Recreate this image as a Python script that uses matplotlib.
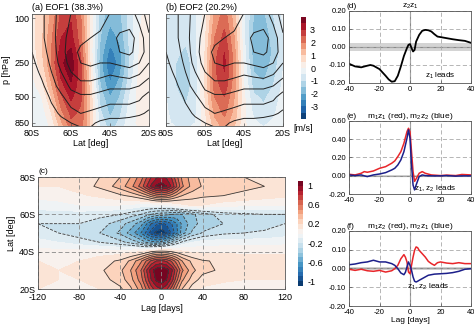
import numpy as np
import matplotlib
matplotlib.use("Agg")
import matplotlib.pyplot as plt
from matplotlib.ticker import FixedLocator, NullLocator

plt.rcParams['font.family'] = ['Liberation Sans', 'DejaVu Sans']
plt.rcParams['mathtext.default'] = 'regular'
plt.rcParams['axes.unicode_minus'] = False
plt.rcParams['font.size'] = 6.5

# -----------------------------
# DATA  (a), (b): EOFs of zonal-mean wind and climatological U
# -----------------------------
lat = [-80, -75, -70, -65, -60, -55, -50, -45, -40, -35, -30, -25, -20]
plev = [90, 150, 200, 250, 300, 400, 500, 700, 850, 925]

eof1 = [
    [0.3, 0.8, 1.6, 2.6, 2.9, 2.0, 0.3, -1.2, -1.8, -1.6, -0.8, -0.1, 0.2],
    [0.3, 0.9, 1.9, 3.0, 3.2, 2.2, 0.3, -1.5, -2.3, -1.9, -0.9, 0.0, 0.3],
    [0.2, 0.9, 2.0, 3.3, 3.6, 2.4, 0.3, -1.7, -2.7, -2.2, -1.0, 0.0, 0.3],
    [0.1, 0.8, 2.0, 3.4, 3.8, 2.6, 0.4, -1.8, -3.0, -2.3, -1.0, 0.1, 0.4],
    [0.0, 0.6, 1.8, 3.2, 3.7, 2.7, 0.5, -1.7, -2.8, -2.1, -0.9, 0.1, 0.4],
    [-0.2, 0.3, 1.4, 2.8, 3.4, 2.7, 0.7, -1.5, -2.4, -1.8, -0.7, 0.2, 0.4],
    [-0.3, 0.0, 1.0, 2.4, 3.1, 2.6, 0.8, -1.2, -2.0, -1.5, -0.5, 0.2, 0.3],
    [-0.4, -0.3, 0.5, 1.8, 2.6, 2.4, 0.9, -0.9, -1.6, -1.1, -0.3, 0.1, 0.2],
    [-0.4, -0.4, 0.2, 1.4, 2.4, 2.3, 0.9, -0.7, -1.3, -0.9, -0.2, 0.1, 0.1],
    [-0.4, -0.4, 0.1, 1.2, 2.2, 2.2, 0.9, -0.6, -1.2, -0.8, -0.2, 0.0, 0.1],
]

eof2 = [
    [-0.5, -0.7, -0.8, -0.6, 0.2, 1.6, 2.2, 1.2, -0.4, -1.5, -1.6, -1.0, -0.4],
    [-0.5, -0.8, -0.9, -0.6, 0.4, 2.0, 2.7, 1.5, -0.4, -1.8, -1.9, -1.3, -0.6],
    [-0.5, -0.9, -1.1, -0.7, 0.5, 2.3, 3.0, 1.7, -0.3, -1.8, -2.0, -1.4, -0.7],
    [-0.5, -1.0, -1.2, -0.8, 0.6, 2.4, 3.1, 1.8, -0.2, -1.7, -1.9, -1.3, -0.6],
    [-0.5, -1.0, -1.2, -0.8, 0.6, 2.4, 3.0, 1.8, -0.1, -1.5, -1.7, -1.2, -0.5],
    [-0.5, -1.0, -1.2, -0.8, 0.6, 2.2, 2.8, 1.7, 0.0, -1.2, -1.4, -1.0, -0.4],
    [-0.5, -0.9, -1.1, -0.7, 0.5, 2.0, 2.5, 1.5, 0.1, -0.9, -1.1, -0.8, -0.3],
    [-0.4, -0.8, -0.9, -0.6, 0.4, 1.6, 2.1, 1.3, 0.1, -0.6, -0.8, -0.6, -0.2],
    [-0.4, -0.6, -0.7, -0.5, 0.3, 1.3, 1.8, 1.1, 0.1, -0.4, -0.6, -0.4, -0.2],
    [-0.3, -0.5, -0.6, -0.4, 0.3, 1.2, 1.7, 1.0, 0.1, -0.3, -0.5, -0.4, -0.2],
]

u_clim = [
    [6, 9, 13, 17, 20, 21, 22, 23, 25, 27, 27, 23, 17],
    [5.5, 9, 13, 18, 22, 24, 25, 26, 28, 31, 32, 28, 21],
    [5, 8, 12, 18, 23, 26, 27, 27, 28, 30, 31, 28, 22],
    [4, 7, 11, 17, 22, 25, 26, 25, 25, 26, 27, 25, 20],
    [3, 6, 10, 15, 20, 23, 23, 22, 21, 22, 23, 21, 17],
    [1, 4, 8, 12, 16, 18, 18, 17, 16, 16, 16, 15, 12],
    [-1, 2, 6, 9, 13, 14, 14, 13, 12, 12, 12, 11, 8],
    [-3, 0, 3, 6, 8, 10, 9, 8, 7, 7, 7, 6, 4],
    [-4, -2, 1, 3, 5, 6, 6, 4, 3, 3, 2, 1, 0],
    [-4, -3, 0, 2, 4, 5, 5, 3, 2, 1, 0, -1, -2],
]

# -----------------------------
# DATA  (c): lag regression, lat x lag
# -----------------------------
lag_c = [-120, -100, -80, -60, -40, -30, -20, -15, -10, -5, 0, 5, 10, 15, 20, 30, 40, 60, 80, 100, 120]
reg_c = [
    [0.15, 0.12, 0.14, 0.20, 0.30, 0.40, 0.55, 0.68, 0.80, 0.88, 0.92, 0.88, 0.78, 0.62, 0.48, 0.34, 0.27, 0.22, 0.20, 0.18, 0.15],
    [0.10, 0.10, 0.15, 0.22, 0.35, 0.46, 0.64, 0.78, 0.92, 1.02, 1.05, 1.00, 0.88, 0.70, 0.52, 0.36, 0.29, 0.25, 0.22, 0.20, 0.18],
    [0.03, 0.04, 0.08, 0.12, 0.18, 0.22, 0.30, 0.36, 0.45, 0.52, 0.55, 0.52, 0.45, 0.36, 0.30, 0.25, 0.22, 0.20, 0.18, 0.15, 0.12],
    [-0.05, -0.03, 0.00, 0.00, 0.00, -0.02, -0.05, -0.06, -0.06, -0.05, -0.05, -0.02, 0.00, 0.04, 0.08, 0.11, 0.10, 0.05, 0.02, 0.00, 0.00],
    [-0.15, -0.15, -0.15, -0.17, -0.20, -0.25, -0.30, -0.35, -0.40, -0.44, -0.45, -0.47, -0.50, -0.51, -0.50, -0.42, -0.35, -0.25, -0.22, -0.20, -0.20],
    [-0.20, -0.20, -0.20, -0.25, -0.36, -0.44, -0.56, -0.68, -0.80, -0.88, -0.92, -0.88, -0.80, -0.70, -0.58, -0.44, -0.36, -0.30, -0.25, -0.25, -0.20],
    [-0.18, -0.20, -0.25, -0.30, -0.42, -0.54, -0.70, -0.82, -0.95, -1.03, -1.06, -1.00, -0.88, -0.72, -0.55, -0.38, -0.29, -0.22, -0.20, -0.18, -0.15],
    [-0.05, -0.10, -0.15, -0.20, -0.27, -0.33, -0.42, -0.50, -0.56, -0.58, -0.55, -0.46, -0.36, -0.26, -0.18, -0.10, -0.06, -0.05, -0.05, -0.05, -0.03],
    [0.03, 0.03, 0.04, 0.05, 0.05, 0.07, 0.10, 0.14, 0.20, 0.24, 0.25, 0.23, 0.20, 0.16, 0.12, 0.08, 0.08, 0.08, 0.08, 0.08, 0.08],
    [0.10, 0.08, 0.10, 0.15, 0.22, 0.32, 0.48, 0.60, 0.72, 0.80, 0.82, 0.78, 0.68, 0.54, 0.40, 0.27, 0.21, 0.18, 0.15, 0.15, 0.15],
    [0.12, 0.10, 0.12, 0.18, 0.28, 0.40, 0.60, 0.78, 0.95, 1.06, 1.10, 1.05, 0.92, 0.72, 0.52, 0.33, 0.23, 0.18, 0.15, 0.15, 0.12],
    [0.12, 0.10, 0.10, 0.15, 0.25, 0.36, 0.55, 0.72, 0.90, 1.02, 1.06, 1.00, 0.85, 0.62, 0.42, 0.25, 0.16, 0.12, 0.10, 0.10, 0.10],
    [0.10, 0.08, 0.08, 0.10, 0.18, 0.28, 0.45, 0.60, 0.75, 0.85, 0.90, 0.82, 0.65, 0.45, 0.30, 0.15, 0.08, 0.05, 0.05, 0.05, 0.05],
]

# -----------------------------
# DATA  (d), (e), (f): lagged cross-correlations
# -----------------------------
lag_d = [-40, -36, -32, -28, -26, -24, -20, -16, -14, -12, -10, -8, -6, -4, -2, -1, 0, 1, 2, 3, 4,
         6, 8, 10, 12, 14, 16, 18, 20, 24, 28, 32, 36, 40]
z2z1 = [-0.093, -0.108, -0.113, -0.104, -0.100, -0.104, -0.123, -0.160, -0.180, -0.193, -0.190,
        -0.160, -0.108, -0.050, -0.006, 0.012, 0.016, -0.006, -0.025, -0.016, 0.030,
        0.067, 0.090, 0.095, 0.093, 0.086, 0.071, 0.058, 0.055, 0.049, 0.043, 0.038, 0.034, 0.023]

lag_e = [-40, -36, -32, -30, -28, -24, -20, -16, -12, -10, -8, -6, -4, -2, -1, 0, 1, 2, 3, 4,
         6, 8, 10, 14, 20, 24, 30, 34, 40]
m1z1 = [0.017, 0.010, 0.028, 0.046, 0.039, 0.053, 0.082, 0.100, 0.137, 0.162, 0.209, 0.263, 0.354,
        0.480, 0.517, 0.480, 0.260, 0.046, -0.060, -0.033, 0.028, 0.046, 0.028, 0.010, 0.003,
        0.008, 0.003, 0.015, 0.010]
m2z2 = [0.010, 0.003, 0.010, 0.000, -0.008, 0.010, 0.020, 0.035, 0.064, 0.082, 0.118, 0.173, 0.263,
        0.408, 0.500, 0.408, 0.118, -0.100, -0.153, -0.100, -0.008, 0.010, 0.003, 0.000, 0.000,
        0.003, -0.003, 0.000, 0.000]

lag_f = [-40, -36, -32, -28, -24, -20, -16, -12, -10, -8, -6, -4, -3, -2, -1, 0, 1, 2, 3, 4, 5,
         6, 8, 10, 12, 14, 16, 18, 20, 24, 28, 32, 36, 40]
m1z2 = [-0.004, -0.010, -0.004, -0.012, -0.015, -0.010, -0.019, -0.012, -0.001, 0.017, 0.052,
        0.074, 0.060, 0.035, -0.019, -0.028, 0.017, 0.061, 0.097, 0.115, 0.111, 0.097, 0.079,
        0.061, 0.038, 0.026, 0.017, 0.031, 0.035, 0.029, 0.026, 0.031, 0.026, 0.026]
m2z1 = [0.020, 0.024, 0.031, 0.035, 0.044, 0.035, 0.035, 0.026, 0.017, -0.001, -0.024, -0.033,
        -0.020, 0.008, 0.035, 0.017, -0.010, -0.045, -0.068, -0.072, -0.068, -0.063, -0.054,
        -0.045, -0.036, -0.033, -0.030, -0.029, -0.028, -0.026, -0.022, -0.015, -0.004, -0.001]

lat_labels = ['80S', '60S', '40S', '20S']
red = '#e8262a'
navy = '#1c1f8a'
frame = '#555555'


def style_frame(ax):
    for s in ax.spines.values():
        s.set_color(frame)
        s.set_linewidth(0.6)
    ax.tick_params(direction='in', length=2, width=0.5, color=frame, pad=2)


# -----------------------------
# FIGURE
# -----------------------------
fig = plt.figure(figsize=(4.74, 3.27), dpi=100)

ax_a = fig.add_axes([0.0675, 0.6147, 0.2468, 0.3425])
ax_b = fig.add_axes([0.3502, 0.6147, 0.2468, 0.3425])
cax_ab = fig.add_axes([0.635, 0.636, 0.0105, 0.312])
ax_c = fig.add_axes([0.0802, 0.1162, 0.521, 0.3425])
cax_c = fig.add_axes([0.6287, 0.1254, 0.0105, 0.321])
ax_d = fig.add_axes([0.7363, 0.7462, 0.2574, 0.2202])
ax_e = fig.add_axes([0.7363, 0.4060, 0.2574, 0.2250])
ax_f = fig.add_axes([0.7363, 0.0642, 0.2574, 0.2294])

lev_ab = np.arange(-4, 4.01, 0.5)
for ax, field, title in [(ax_a, eof1, '(a) EOF1 (38.3%)'), (ax_b, eof2, '(b) EOF2 (20.2%)')]:
    cf = ax.contourf(lat, plev, field, levels=lev_ab, cmap='RdBu_r')
    ax.contour(lat, plev, u_clim, levels=[5, 10, 15, 20, 25, 30], colors='#222222',
               linewidths=0.7)
    ax.set_yscale('log')
    ax.set_ylim(905, 92)
    ax.set_xlim(-80, -20)
    ax.yaxis.set_major_locator(FixedLocator([100, 250, 500, 850]))
    ax.yaxis.set_minor_locator(NullLocator())
    ax.set_xticks([-80, -60, -40, -20])
    ax.set_xticklabels(lat_labels)
    ax.set_xlabel('Lat [deg]', labelpad=1)
    ax.set_title(title, loc='left', pad=3, fontsize=6.5)
    style_frame(ax)
ax_a.set_yticklabels(['100', '250', '500', '850'])
ax_a.set_ylabel('p [hPa]', labelpad=2)
ax_b.set_yticklabels([])

cb = fig.colorbar(cf, cax=cax_ab, ticks=[-3, -2, -1, 0, 1, 2, 3])
cb.outline.set_visible(False)
cb.ax.tick_params(length=0, pad=3, labelsize=6.5)
cax_ab.text(0.5, -0.05, '[m/s]', transform=cax_ab.transAxes, ha='center', va='top', fontsize=6.5)

# panel (c)
lev_c = np.round(np.arange(-1.1, 1.11, 0.1), 2)
cf_c = ax_c.contourf(lag_c, lat, reg_c, levels=lev_c, cmap='RdBu_r')
line_lev = [v for v in lev_c if abs(v) > 0.15 and abs(v) < 1.05]
cs = ax_c.contour(lag_c, lat, reg_c, levels=line_lev, colors='#3a3a3a', linewidths=0.6)
cs.set_linestyles(['--' if v < 0 else '-' for v in cs.levels])
ax_c.set_xlim(-120, 120)
ax_c.set_ylim(-80, -20)
ax_c.invert_yaxis()
ax_c.set_xticks(np.arange(-120, 121, 40))
ax_c.set_yticks([-80, -60, -40, -20])
ax_c.set_yticklabels(lat_labels)
ax_c.set_xlabel('Lag [days]', labelpad=1)
ax_c.set_ylabel('Lat [deg]', labelpad=2)
ax_c.grid(True, ls=(0, (5, 3)), color='#888888', lw=0.6)
ax_c.text(0.0, 1.04, '(c)', transform=ax_c.transAxes, fontsize=6)
style_frame(ax_c)
ax_c.tick_params(axis='x', pad=3)

cb2 = fig.colorbar(cf_c, cax=cax_c, ticks=[-1, -0.6, -0.2, 0.2, 0.6, 1])
cb2.ax.set_yticklabels(['-1', '-0.6', '-0.2', '0.2', '0.6', '1'])
cb2.outline.set_visible(False)
cb2.ax.tick_params(length=0, pad=3, labelsize=6.5)


def lag_panel(ax, ylim, yticks, band):
    ax.axhspan(-band, band, color='#d4d4d4', lw=0, zorder=0)
    ax.axhline(0, color='#8a8a8a', lw=0.8, zorder=1)
    ax.axvline(0, color='#8a8a8a', lw=0.8, zorder=1)
    ax.set_xlim(-40, 40)
    ax.set_ylim(*ylim)
    ax.set_xticks([-40, -20, 0, 20, 40])
    ax.set_yticks(yticks)
    ax.set_yticklabels(['%.2f' % v for v in yticks])
    ax.grid(True, ls=(0, (5, 3)), color='#aaaaaa', lw=0.6)
    ax.tick_params(labelsize=5.5)
    style_frame(ax)


lag_panel(ax_d, (-0.2, 0.2), [-0.2, -0.1, 0.0, 0.1, 0.2], 0.02)
ax_d.plot(lag_d, z2z1, color='black', lw=1.3)
ax_d.text(0.5, 1.04, 'z$_2$z$_1$', transform=ax_d.transAxes, ha='center', fontsize=6)
ax_d.text(-0.02, 1.04, '(d)', transform=ax_d.transAxes, fontsize=6)
ax_d.text(19.5, -0.158, 'z$_1$ leads', ha='center', va='center', fontsize=5.8)

lag_panel(ax_e, (-0.2, 0.6), [-0.2, 0.0, 0.2, 0.4, 0.6], 0.004)
ax_e.plot(lag_e, m1z1, color=red, lw=1.1)
ax_e.plot(lag_e, m2z2, color=navy, lw=1.1)
ax_e.text(0.5, 1.04, 'm$_1$z$_1$ (red), m$_2$z$_2$ (blue)', transform=ax_e.transAxes,
          ha='center', fontsize=6)
ax_e.text(-0.02, 1.04, '(e)', transform=ax_e.transAxes, fontsize=6)
ax_e.text(16.5, -0.146, 'z$_1$, z$_2$ leads', ha='center', va='center', fontsize=5.8)

lag_panel(ax_f, (-0.2, 0.2), [-0.2, -0.1, 0.0, 0.1, 0.2], 0.007)
ax_f.plot(lag_f, m1z2, color=red, lw=1.1)
ax_f.plot(lag_f, m2z1, color=navy, lw=1.1)
ax_f.text(0.5, 1.04, 'm$_1$z$_2$ (red), m$_2$z$_1$ (blue)', transform=ax_f.transAxes,
          ha='center', fontsize=6)
ax_f.text(-0.02, 1.04, '(f)', transform=ax_f.transAxes, fontsize=6)
ax_f.text(12, -0.10, 'z$_1$, z$_2$ leads', ha='center', va='center', fontsize=5.8)
ax_f.set_xlabel('Lag [days]', labelpad=1, fontsize=6)

fig.savefig('out.png', dpi=100)
